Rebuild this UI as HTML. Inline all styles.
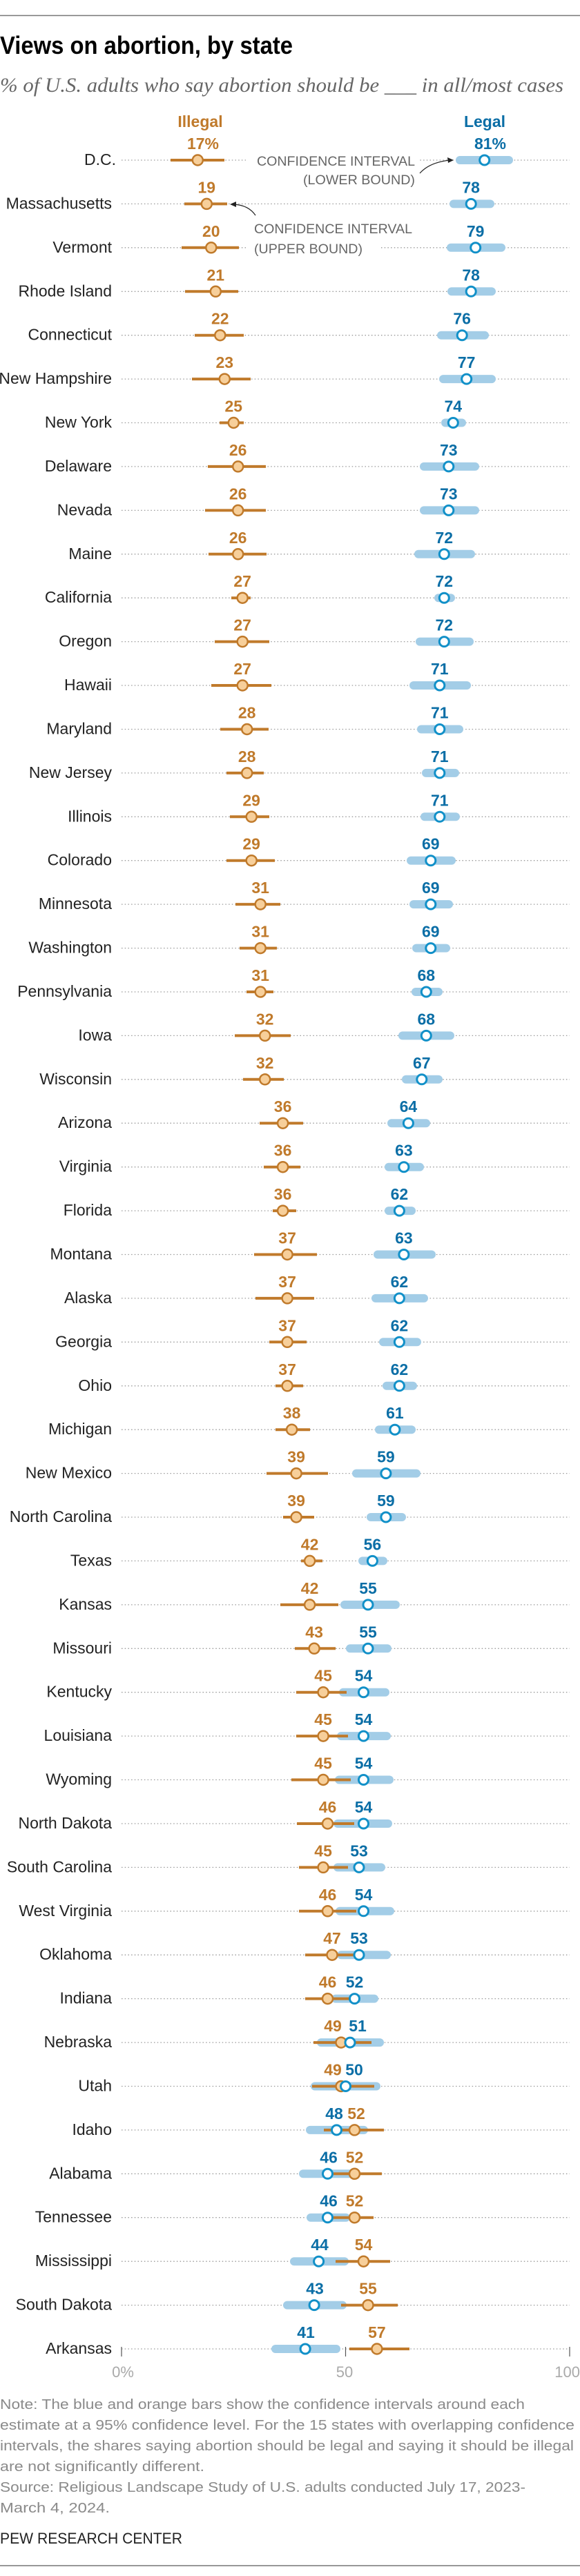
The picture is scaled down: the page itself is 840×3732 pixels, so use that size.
<!DOCTYPE html>
<html><head><meta charset="utf-8"><style>
html,body{margin:0;padding:0;background:#fff}
svg{display:block;font-family:"Liberation Sans",sans-serif}
.n{font-size:23px;fill:#222;text-anchor:end}
.g{stroke:#9a9a9a;stroke-width:1.3;stroke-dasharray:1.5 3.2}
.b{stroke:#a3cde7;stroke-width:12;stroke-linecap:round}
.o{stroke:#c07a2b;stroke-width:4}
.od{fill:#f7cf9a;stroke:#c07a2b;stroke-width:2.5}
.bd{fill:#fff;stroke:#1190c8;stroke-width:3}
.vo{font-size:23px;font-weight:bold;fill:#c07a2b;text-anchor:middle}
.vb{font-size:23px;font-weight:bold;fill:#0b6ea6;text-anchor:middle}
.an{font-size:19px;fill:#666}
.nt{font-size:20px;fill:#8a8a8a}
</style></head><body>
<svg width="840" height="3732" viewBox="0 0 840 3732" xmlns="http://www.w3.org/2000/svg">
<line x1="0" x2="840" y1="22.5" y2="22.5" stroke="#777" stroke-width="1.5"/>
<text x="0" y="78" font-size="36" font-weight="bold" fill="#000" textLength="424" lengthAdjust="spacingAndGlyphs">Views on abortion, by state</text>
<text x="0" y="133" font-size="30" font-style="italic" fill="#666" font-family="Liberation Serif, serif" textLength="816" lengthAdjust="spacingAndGlyphs">% of U.S. adults who say abortion should be ___ in all/most cases</text>
<text x="290" y="184" font-size="23" font-weight="bold" fill="#c07a2b" text-anchor="middle">Illegal</text>
<text x="702" y="184" font-size="23" font-weight="bold" fill="#0b6ea6" text-anchor="middle">Legal</text>

<g transform="translate(0,232)"><text class="n" x="168" y="7">D.C.</text><line class="g" x1="176" x2="825"/><line class="b" x1="666" x2="737"/><line class="o" x1="247" x2="325"/><circle class="od" cx="286.3" r="7.5"/><circle class="bd" cx="701.7" r="7"/><text class="vo" x="294" y="-16">17%</text><text class="vb" x="710" y="-16">81%</text></g>
<rect x="356" y="212" width="250" height="62" fill="#fff"/>
<text class="an" x="372" y="240" textLength="229" lengthAdjust="spacingAndGlyphs">CONFIDENCE INTERVAL</text>
<text class="an" x="439" y="267" textLength="162" lengthAdjust="spacingAndGlyphs">(LOWER BOUND)</text>
<path d="M608 251 Q622 235 652 232" fill="none" stroke="#222" stroke-width="1.2"/><path d="M657 232 L648 228 L649 236 Z" fill="#222"/>

<g transform="translate(0,295.4)"><text class="n" x="162" y="7">Massachusetts</text><line class="g" x1="176" x2="825"/><line class="b" x1="657" x2="710"/><line class="o" x1="267" x2="329"/><circle class="od" cx="299.3" r="7.5"/><circle class="bd" cx="682.2" r="7"/><text class="vo" x="299.3" y="-16">19</text><text class="vb" x="682.2" y="-16">78</text></g>
<path d="M370 312 Q360 297 338 296" fill="none" stroke="#222" stroke-width="1.2"/><path d="M333 296 L342 292 L342 300 Z" fill="#222"/>

<g transform="translate(0,358.8)"><text class="n" x="162" y="7">Vermont</text><line class="g" x1="176" x2="825"/><line class="b" x1="653" x2="726"/><line class="o" x1="263" x2="346"/><circle class="od" cx="305.8" r="7.5"/><circle class="bd" cx="688.7" r="7"/><text class="vo" x="305.8" y="-16">20</text><text class="vb" x="688.7" y="-16">79</text></g>
<rect x="356" y="318" width="193" height="58" fill="#fff"/>
<text class="an" x="368" y="338" textLength="229" lengthAdjust="spacingAndGlyphs">CONFIDENCE INTERVAL</text>
<text class="an" x="368" y="367" textLength="157" lengthAdjust="spacingAndGlyphs">(UPPER BOUND)</text>

<g transform="translate(0,422.3)"><text class="n" x="162" y="7">Rhode Island</text><line class="g" x1="176" x2="825"/><line class="b" x1="654" x2="712"/><line class="o" x1="268" x2="345"/><circle class="od" cx="312.3" r="7.5"/><circle class="bd" cx="682.2" r="7"/><text class="vo" x="312.3" y="-16">21</text><text class="vb" x="682.2" y="-16">78</text></g>
<g transform="translate(0,485.7)"><text class="n" x="162" y="7">Connecticut</text><line class="g" x1="176" x2="825"/><line class="b" x1="639" x2="702"/><line class="o" x1="282" x2="353"/><circle class="od" cx="318.8" r="7.5"/><circle class="bd" cx="669.2" r="7"/><text class="vo" x="318.8" y="-16">22</text><text class="vb" x="669.2" y="-16">76</text></g>
<g transform="translate(0,549.1)"><text class="n" x="162" y="7">New Hampshire</text><line class="g" x1="176" x2="825"/><line class="b" x1="642" x2="712"/><line class="o" x1="278" x2="363"/><circle class="od" cx="325.3" r="7.5"/><circle class="bd" cx="675.7" r="7"/><text class="vo" x="325.3" y="-16">23</text><text class="vb" x="675.7" y="-16">77</text></g>
<g transform="translate(0,612.5)"><text class="n" x="162" y="7">New York</text><line class="g" x1="176" x2="825"/><line class="b" x1="645" x2="669"/><line class="o" x1="318" x2="353"/><circle class="od" cx="338.3" r="7.5"/><circle class="bd" cx="656.3" r="7"/><text class="vo" x="338.3" y="-16">25</text><text class="vb" x="656.3" y="-16">74</text></g>
<g transform="translate(0,675.9)"><text class="n" x="162" y="7">Delaware</text><line class="g" x1="176" x2="825"/><line class="b" x1="614" x2="688"/><line class="o" x1="301" x2="385"/><circle class="od" cx="344.7" r="7.5"/><circle class="bd" cx="649.8" r="7"/><text class="vo" x="344.7" y="-16">26</text><text class="vb" x="649.8" y="-16">73</text></g>
<g transform="translate(0,739.4)"><text class="n" x="162" y="7">Nevada</text><line class="g" x1="176" x2="825"/><line class="b" x1="614" x2="688"/><line class="o" x1="297" x2="385"/><circle class="od" cx="344.7" r="7.5"/><circle class="bd" cx="649.8" r="7"/><text class="vo" x="344.7" y="-16">26</text><text class="vb" x="649.8" y="-16">73</text></g>
<g transform="translate(0,802.8)"><text class="n" x="162" y="7">Maine</text><line class="g" x1="176" x2="825"/><line class="b" x1="606" x2="682"/><line class="o" x1="302" x2="386"/><circle class="od" cx="344.7" r="7.5"/><circle class="bd" cx="643.3" r="7"/><text class="vo" x="344.7" y="-16">26</text><text class="vb" x="643.3" y="-16">72</text></g>
<g transform="translate(0,866.2)"><text class="n" x="162" y="7">California</text><line class="g" x1="176" x2="825"/><line class="b" x1="635" x2="653"/><line class="o" x1="335" x2="363"/><circle class="od" cx="351.2" r="7.5"/><circle class="bd" cx="643.3" r="7"/><text class="vo" x="351.2" y="-16">27</text><text class="vb" x="643.3" y="-16">72</text></g>
<g transform="translate(0,929.6)"><text class="n" x="162" y="7">Oregon</text><line class="g" x1="176" x2="825"/><line class="b" x1="608" x2="680"/><line class="o" x1="311" x2="390"/><circle class="od" cx="351.2" r="7.5"/><circle class="bd" cx="643.3" r="7"/><text class="vo" x="351.2" y="-16">27</text><text class="vb" x="643.3" y="-16">72</text></g>
<g transform="translate(0,993)"><text class="n" x="162" y="7">Hawaii</text><line class="g" x1="176" x2="825"/><line class="b" x1="599" x2="676"/><line class="o" x1="306" x2="393"/><circle class="od" cx="351.2" r="7.5"/><circle class="bd" cx="636.8" r="7"/><text class="vo" x="351.2" y="-16">27</text><text class="vb" x="636.8" y="-16">71</text></g>
<g transform="translate(0,1056.5)"><text class="n" x="162" y="7">Maryland</text><line class="g" x1="176" x2="825"/><line class="b" x1="610" x2="665"/><line class="o" x1="319" x2="389"/><circle class="od" cx="357.7" r="7.5"/><circle class="bd" cx="636.8" r="7"/><text class="vo" x="357.7" y="-16">28</text><text class="vb" x="636.8" y="-16">71</text></g>
<g transform="translate(0,1119.9)"><text class="n" x="162" y="7">New Jersey</text><line class="g" x1="176" x2="825"/><line class="b" x1="617" x2="659"/><line class="o" x1="328" x2="382"/><circle class="od" cx="357.7" r="7.5"/><circle class="bd" cx="636.8" r="7"/><text class="vo" x="357.7" y="-16">28</text><text class="vb" x="636.8" y="-16">71</text></g>
<g transform="translate(0,1183.3)"><text class="n" x="162" y="7">Illinois</text><line class="g" x1="176" x2="825"/><line class="b" x1="615" x2="660"/><line class="o" x1="333" x2="390"/><circle class="od" cx="364.2" r="7.5"/><circle class="bd" cx="636.8" r="7"/><text class="vo" x="364.2" y="-16">29</text><text class="vb" x="636.8" y="-16">71</text></g>
<g transform="translate(0,1246.7)"><text class="n" x="162" y="7">Colorado</text><line class="g" x1="176" x2="825"/><line class="b" x1="595" x2="654"/><line class="o" x1="328" x2="398"/><circle class="od" cx="364.2" r="7.5"/><circle class="bd" cx="623.8" r="7"/><text class="vo" x="364.2" y="-16">29</text><text class="vb" x="623.8" y="-16">69</text></g>
<g transform="translate(0,1310.1)"><text class="n" x="162" y="7">Minnesota</text><line class="g" x1="176" x2="825"/><line class="b" x1="599" x2="650"/><line class="o" x1="341" x2="406"/><circle class="od" cx="377.2" r="7.5"/><circle class="bd" cx="623.8" r="7"/><text class="vo" x="377.2" y="-16">31</text><text class="vb" x="623.8" y="-16">69</text></g>
<g transform="translate(0,1373.6)"><text class="n" x="162" y="7">Washington</text><line class="g" x1="176" x2="825"/><line class="b" x1="603" x2="646"/><line class="o" x1="347" x2="401"/><circle class="od" cx="377.2" r="7.5"/><circle class="bd" cx="623.8" r="7"/><text class="vo" x="377.2" y="-16">31</text><text class="vb" x="623.8" y="-16">69</text></g>
<g transform="translate(0,1437)"><text class="n" x="162" y="7">Pennsylvania</text><line class="g" x1="176" x2="825"/><line class="b" x1="602" x2="635"/><line class="o" x1="357" x2="396"/><circle class="od" cx="377.2" r="7.5"/><circle class="bd" cx="617.3" r="7"/><text class="vo" x="377.2" y="-16">31</text><text class="vb" x="617.3" y="-16">68</text></g>
<g transform="translate(0,1500.4)"><text class="n" x="162" y="7">Iowa</text><line class="g" x1="176" x2="825"/><line class="b" x1="583" x2="652"/><line class="o" x1="340" x2="421"/><circle class="od" cx="383.7" r="7.5"/><circle class="bd" cx="617.3" r="7"/><text class="vo" x="383.7" y="-16">32</text><text class="vb" x="617.3" y="-16">68</text></g>
<g transform="translate(0,1563.8)"><text class="n" x="162" y="7">Wisconsin</text><line class="g" x1="176" x2="825"/><line class="b" x1="588" x2="635"/><line class="o" x1="352" x2="411"/><circle class="od" cx="383.7" r="7.5"/><circle class="bd" cx="610.8" r="7"/><text class="vo" x="383.7" y="-16">32</text><text class="vb" x="610.8" y="-16">67</text></g>
<g transform="translate(0,1627.2)"><text class="n" x="162" y="7">Arizona</text><line class="g" x1="176" x2="825"/><line class="b" x1="567" x2="617"/><line class="o" x1="376" x2="439"/><circle class="od" cx="409.6" r="7.5"/><circle class="bd" cx="591.4" r="7"/><text class="vo" x="409.6" y="-16">36</text><text class="vb" x="591.4" y="-16">64</text></g>
<g transform="translate(0,1690.7)"><text class="n" x="162" y="7">Virginia</text><line class="g" x1="176" x2="825"/><line class="b" x1="563" x2="608"/><line class="o" x1="382" x2="435"/><circle class="od" cx="409.6" r="7.5"/><circle class="bd" cx="584.9" r="7"/><text class="vo" x="409.6" y="-16">36</text><text class="vb" x="584.9" y="-16">63</text></g>
<g transform="translate(0,1754.1)"><text class="n" x="162" y="7">Florida</text><line class="g" x1="176" x2="825"/><line class="b" x1="563" x2="596"/><line class="o" x1="395" x2="429"/><circle class="od" cx="409.6" r="7.5"/><circle class="bd" cx="578.4" r="7"/><text class="vo" x="409.6" y="-16">36</text><text class="vb" x="578.4" y="-16">62</text></g>
<g transform="translate(0,1817.5)"><text class="n" x="162" y="7">Montana</text><line class="g" x1="176" x2="825"/><line class="b" x1="547" x2="625"/><line class="o" x1="368" x2="459"/><circle class="od" cx="416.1" r="7.5"/><circle class="bd" cx="584.9" r="7"/><text class="vo" x="416.1" y="-16">37</text><text class="vb" x="584.9" y="-16">63</text></g>
<g transform="translate(0,1880.9)"><text class="n" x="162" y="7">Alaska</text><line class="g" x1="176" x2="825"/><line class="b" x1="544" x2="614"/><line class="o" x1="370" x2="455"/><circle class="od" cx="416.1" r="7.5"/><circle class="bd" cx="578.4" r="7"/><text class="vo" x="416.1" y="-16">37</text><text class="vb" x="578.4" y="-16">62</text></g>
<g transform="translate(0,1944.3)"><text class="n" x="162" y="7">Georgia</text><line class="g" x1="176" x2="825"/><line class="b" x1="555" x2="604"/><line class="o" x1="390" x2="444"/><circle class="od" cx="416.1" r="7.5"/><circle class="bd" cx="578.4" r="7"/><text class="vo" x="416.1" y="-16">37</text><text class="vb" x="578.4" y="-16">62</text></g>
<g transform="translate(0,2007.8)"><text class="n" x="162" y="7">Ohio</text><line class="g" x1="176" x2="825"/><line class="b" x1="560" x2="598"/><line class="o" x1="399" x2="439"/><circle class="od" cx="416.1" r="7.5"/><circle class="bd" cx="578.4" r="7"/><text class="vo" x="416.1" y="-16">37</text><text class="vb" x="578.4" y="-16">62</text></g>
<g transform="translate(0,2071.2)"><text class="n" x="162" y="7">Michigan</text><line class="g" x1="176" x2="825"/><line class="b" x1="549" x2="596"/><line class="o" x1="399" x2="449"/><circle class="od" cx="422.6" r="7.5"/><circle class="bd" cx="571.9" r="7"/><text class="vo" x="422.6" y="-16">38</text><text class="vb" x="571.9" y="-16">61</text></g>
<g transform="translate(0,2134.6)"><text class="n" x="162" y="7">New Mexico</text><line class="g" x1="176" x2="825"/><line class="b" x1="516" x2="603"/><line class="o" x1="386" x2="475"/><circle class="od" cx="429.1" r="7.5"/><circle class="bd" cx="558.9" r="7"/><text class="vo" x="429.1" y="-16">39</text><text class="vb" x="558.9" y="-16">59</text></g>
<g transform="translate(0,2198)"><text class="n" x="162" y="7">North Carolina</text><line class="g" x1="176" x2="825"/><line class="b" x1="537" x2="582"/><line class="o" x1="410" x2="455"/><circle class="od" cx="429.1" r="7.5"/><circle class="bd" cx="558.9" r="7"/><text class="vo" x="429.1" y="-16">39</text><text class="vb" x="558.9" y="-16">59</text></g>
<g transform="translate(0,2261.4)"><text class="n" x="162" y="7">Texas</text><line class="g" x1="176" x2="825"/><line class="b" x1="525" x2="555"/><line class="o" x1="436" x2="467"/><circle class="od" cx="448.6" r="7.5"/><circle class="bd" cx="539.4" r="7"/><text class="vo" x="448.6" y="-16">42</text><text class="vb" x="539.4" y="-16">56</text></g>
<g transform="translate(0,2324.9)"><text class="n" x="162" y="7">Kansas</text><line class="g" x1="176" x2="825"/><line class="b" x1="499" x2="573"/><line class="o" x1="406" x2="490"/><circle class="od" cx="448.6" r="7.5"/><circle class="bd" cx="533" r="7"/><text class="vo" x="448.6" y="-16">42</text><text class="vb" x="533" y="-16">55</text></g>
<g transform="translate(0,2388.3)"><text class="n" x="162" y="7">Missouri</text><line class="g" x1="176" x2="825"/><line class="b" x1="507" x2="561"/><line class="o" x1="427" x2="486"/><circle class="od" cx="455.1" r="7.5"/><circle class="bd" cx="533" r="7"/><text class="vo" x="455.1" y="-16">43</text><text class="vb" x="533" y="-16">55</text></g>
<g transform="translate(0,2451.7)"><text class="n" x="162" y="7">Kentucky</text><line class="g" x1="176" x2="825"/><line class="b" x1="497" x2="558"/><line class="o" x1="429" x2="502"/><circle class="od" cx="468.1" r="7.5"/><circle class="bd" cx="526.5" r="7"/><text class="vo" x="468.1" y="-16">45</text><text class="vb" x="526.5" y="-16">54</text></g>
<g transform="translate(0,2515.1)"><text class="n" x="162" y="7">Louisiana</text><line class="g" x1="176" x2="825"/><line class="b" x1="494" x2="560"/><line class="o" x1="429" x2="504"/><circle class="od" cx="468.1" r="7.5"/><circle class="bd" cx="526.5" r="7"/><text class="vo" x="468.1" y="-16">45</text><text class="vb" x="526.5" y="-16">54</text></g>
<g transform="translate(0,2578.5)"><text class="n" x="162" y="7">Wyoming</text><line class="g" x1="176" x2="825"/><line class="b" x1="491" x2="564"/><line class="o" x1="422" x2="508"/><circle class="od" cx="468.1" r="7.5"/><circle class="bd" cx="526.5" r="7"/><text class="vo" x="468.1" y="-16">45</text><text class="vb" x="526.5" y="-16">54</text></g>
<g transform="translate(0,2642)"><text class="n" x="162" y="7">North Dakota</text><line class="g" x1="176" x2="825"/><line class="b" x1="489" x2="562"/><line class="o" x1="430" x2="513"/><circle class="od" cx="474.5" r="7.5"/><circle class="bd" cx="526.5" r="7"/><text class="vo" x="474.5" y="-16">46</text><text class="vb" x="526.5" y="-16">54</text></g>
<g transform="translate(0,2705.4)"><text class="n" x="162" y="7">South Carolina</text><line class="g" x1="176" x2="825"/><line class="b" x1="489" x2="552"/><line class="o" x1="433" x2="504"/><circle class="od" cx="468.1" r="7.5"/><circle class="bd" cx="520" r="7"/><text class="vo" x="468.1" y="-16">45</text><text class="vb" x="520" y="-16">53</text></g>
<g transform="translate(0,2768.8)"><text class="n" x="162" y="7">West Virginia</text><line class="g" x1="176" x2="825"/><line class="b" x1="492" x2="565"/><line class="o" x1="433" x2="516"/><circle class="od" cx="474.5" r="7.5"/><circle class="bd" cx="526.5" r="7"/><text class="vo" x="474.5" y="-16">46</text><text class="vb" x="526.5" y="-16">54</text></g>
<g transform="translate(0,2832.2)"><text class="n" x="162" y="7">Oklahoma</text><line class="g" x1="176" x2="825"/><line class="b" x1="494" x2="560"/><line class="o" x1="442" x2="518"/><circle class="od" cx="481" r="7.5"/><circle class="bd" cx="520" r="7"/><text class="vo" x="481" y="-16">47</text><text class="vb" x="520" y="-16">53</text></g>
<g transform="translate(0,2895.6)"><text class="n" x="162" y="7">Indiana</text><line class="g" x1="176" x2="825"/><line class="b" x1="486" x2="542"/><line class="o" x1="442" x2="509"/><circle class="od" cx="474.5" r="7.5"/><circle class="bd" cx="513.5" r="7"/><text class="vo" x="474.5" y="-16">46</text><text class="vb" x="513.5" y="-16">52</text></g>
<g transform="translate(0,2959.1)"><text class="n" x="162" y="7">Nebraska</text><line class="g" x1="176" x2="825"/><line class="b" x1="465" x2="550"/><line class="o" x1="454" x2="538"/><circle class="od" cx="494" r="7.5"/><circle class="bd" cx="507" r="7"/><text class="vo" x="482" y="-16">49</text><text class="vb" x="518" y="-16">51</text></g>
<g transform="translate(0,3022.5)"><text class="n" x="162" y="7">Utah</text><line class="g" x1="176" x2="825"/><line class="b" x1="456" x2="545"/><line class="o" x1="452" x2="542"/><circle class="od" cx="494" r="7.5"/><circle class="bd" cx="500.5" r="7"/><text class="vo" x="482" y="-16">49</text><text class="vb" x="513" y="-16">50</text></g>
<g transform="translate(0,3085.9)"><text class="n" x="162" y="7">Idaho</text><line class="g" x1="176" x2="825"/><line class="b" x1="449" x2="527"/><line class="o" x1="469" x2="556"/><circle class="od" cx="513.5" r="7.5"/><circle class="bd" cx="487.5" r="7"/><text class="vo" x="516" y="-16">52</text><text class="vb" x="484" y="-16">48</text></g>
<g transform="translate(0,3149.3)"><text class="n" x="162" y="7">Alabama</text><line class="g" x1="176" x2="825"/><line class="b" x1="439" x2="508"/><line class="o" x1="483" x2="553"/><circle class="od" cx="513.5" r="7.5"/><circle class="bd" cx="474.5" r="7"/><text class="vo" x="513.5" y="-16">52</text><text class="vb" x="476" y="-16">46</text></g>
<g transform="translate(0,3212.7)"><text class="n" x="162" y="7">Tennessee</text><line class="g" x1="176" x2="825"/><line class="b" x1="450" x2="501"/><line class="o" x1="483" x2="541"/><circle class="od" cx="513.5" r="7.5"/><circle class="bd" cx="474.5" r="7"/><text class="vo" x="513.5" y="-16">52</text><text class="vb" x="476" y="-16">46</text></g>
<g transform="translate(0,3276.2)"><text class="n" x="162" y="7">Mississippi</text><line class="g" x1="176" x2="825"/><line class="b" x1="426" x2="499"/><line class="o" x1="486" x2="565"/><circle class="od" cx="526.5" r="7.5"/><circle class="bd" cx="461.6" r="7"/><text class="vo" x="526.5" y="-16">54</text><text class="vb" x="463" y="-16">44</text></g>
<g transform="translate(0,3339.6)"><text class="n" x="162" y="7">South Dakota</text><line class="g" x1="176" x2="825"/><line class="b" x1="416" x2="496"/><line class="o" x1="494" x2="576"/><circle class="od" cx="533" r="7.5"/><circle class="bd" cx="455.1" r="7"/><text class="vo" x="533" y="-16">55</text><text class="vb" x="456" y="-16">43</text></g>
<g transform="translate(0,3403)"><text class="n" x="162" y="7">Arkansas</text><line class="g" x1="176" x2="825"/><line class="b" x1="399" x2="487"/><line class="o" x1="506" x2="593"/><circle class="od" cx="545.9" r="7.5"/><circle class="bd" cx="442.1" r="7"/><text class="vo" x="545.9" y="-16">57</text><text class="vb" x="443" y="-16">41</text></g>

<g stroke="#555" stroke-width="1.2"><line x1="176" x2="176" y1="3400" y2="3414"/><line x1="500.5" x2="500.5" y1="3400" y2="3414"/><line x1="825" x2="825" y1="3400" y2="3414"/></g>
<g font-size="22" fill="#aaa"><text x="178" y="3444" text-anchor="middle">0%</text><text x="499" y="3444" text-anchor="middle">50</text><text x="840" y="3444" text-anchor="end">100</text></g>

<text class="nt" x="0" y="3490" textLength="760" lengthAdjust="spacingAndGlyphs">Note: The blue and orange bars show the confidence intervals around each</text>
<text class="nt" x="0" y="3520" textLength="832" lengthAdjust="spacingAndGlyphs">estimate at a 95% confidence level. For the 15 states with overlapping confidence</text>
<text class="nt" x="0" y="3550" textLength="831" lengthAdjust="spacingAndGlyphs">intervals, the shares saying abortion should be legal and saying it should be illegal</text>
<text class="nt" x="0" y="3580" textLength="296" lengthAdjust="spacingAndGlyphs">are not significantly different.</text>
<text class="nt" x="0" y="3610" textLength="761" lengthAdjust="spacingAndGlyphs">Source: Religious Landscape Study of U.S. adults conducted July 17, 2023-</text>
<text class="nt" x="0" y="3640" textLength="159" lengthAdjust="spacingAndGlyphs">March 4, 2024.</text>
<text x="0" y="3685" font-size="22" fill="#222" textLength="264" lengthAdjust="spacingAndGlyphs">PEW RESEARCH CENTER</text>
<line x1="0" x2="840" y1="3717" y2="3717" stroke="#777" stroke-width="1.5"/>
</svg>
</body></html>
